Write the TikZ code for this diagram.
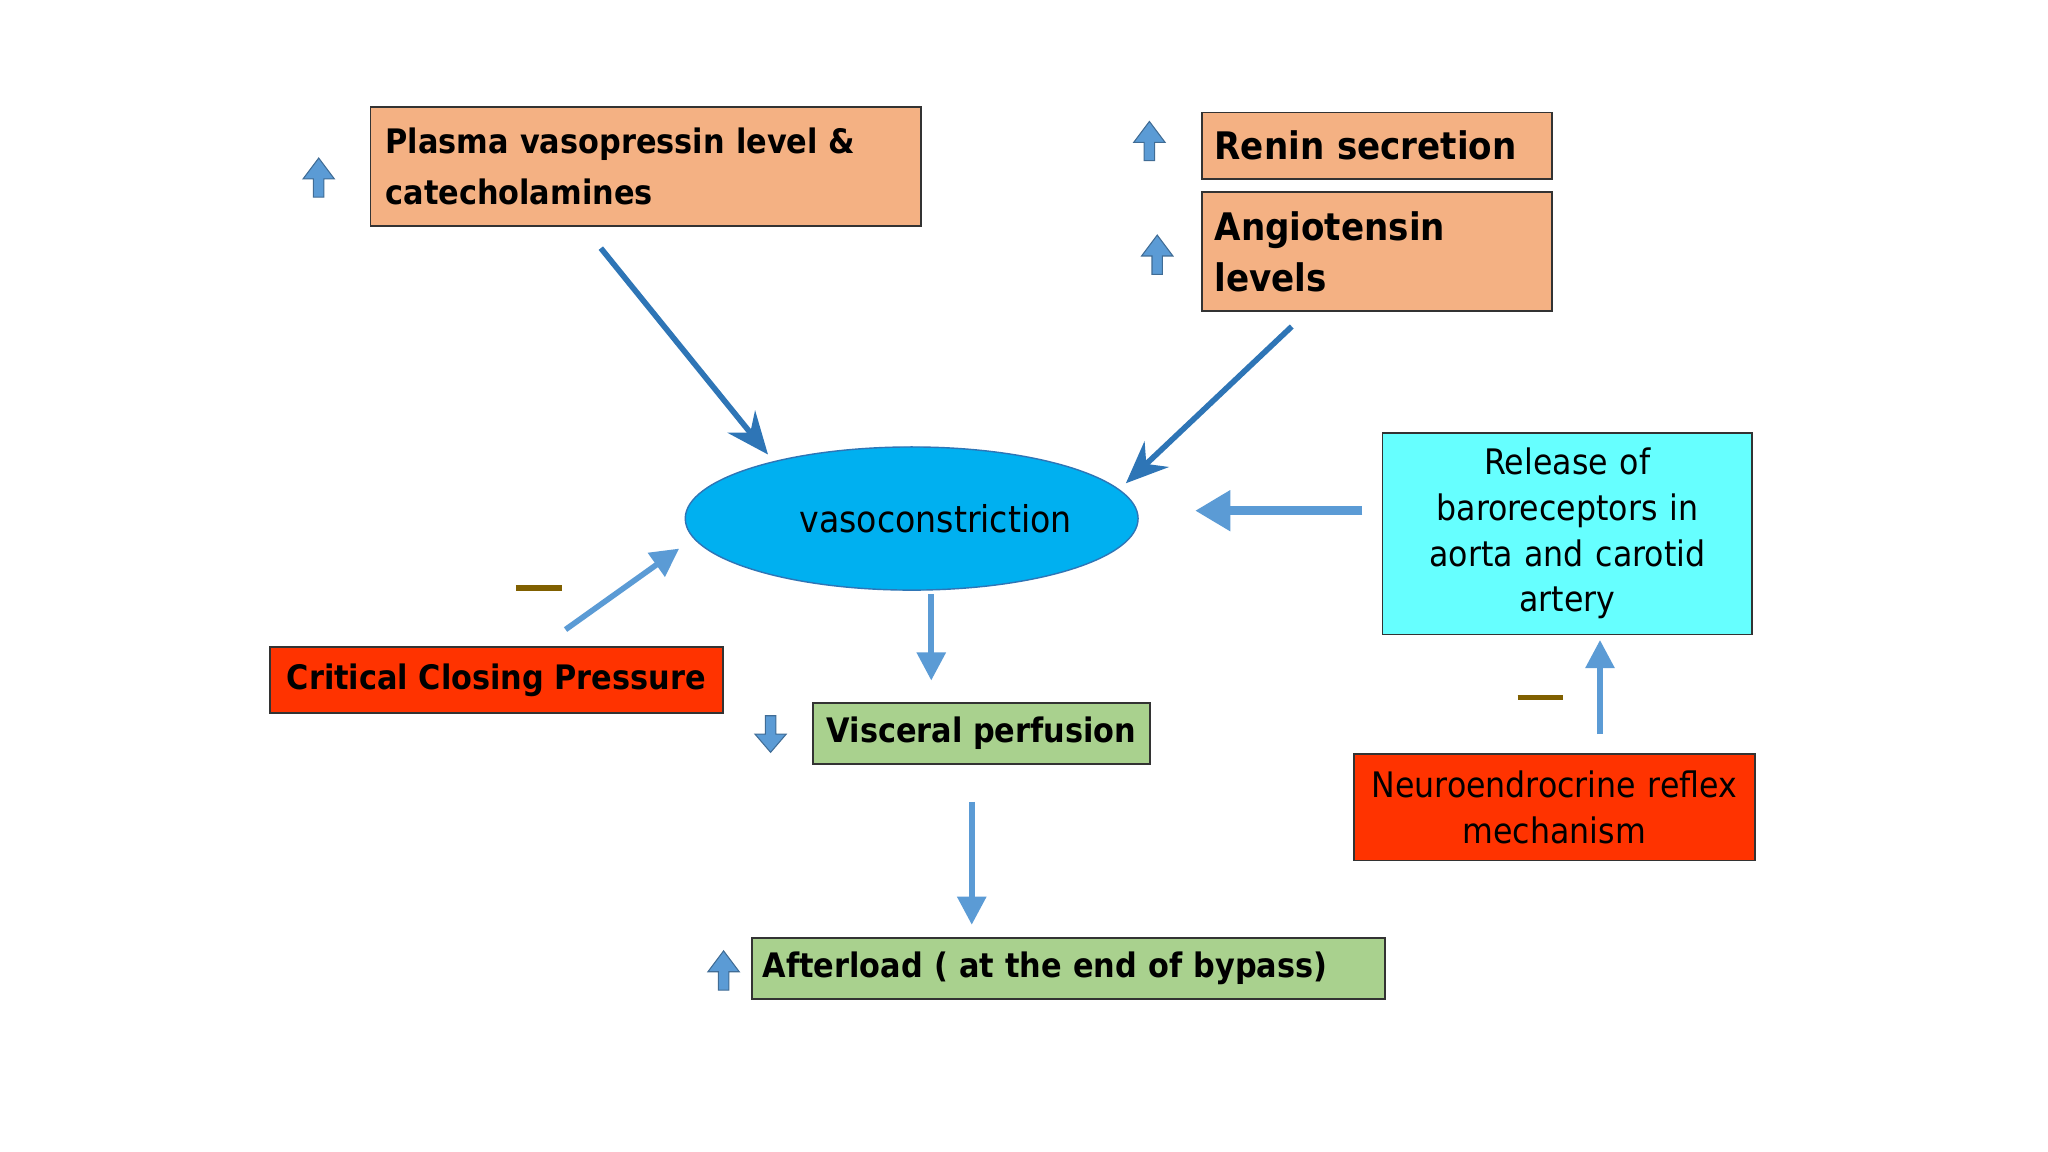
\documentclass[tikz,border=0pt]{standalone}
\usepackage{fontspec}
\setmainfont{DejaVu Sans Condensed}
\usetikzlibrary{arrows.meta,shapes.geometric}
\definecolor{orng}{HTML}{F4B183}
\definecolor{grn}{HTML}{A9D18E}
\definecolor{rd}{HTML}{FF3300}
\definecolor{cyn}{HTML}{66FFFF}
\definecolor{sky}{HTML}{00B0F0}
\definecolor{lb}{HTML}{5B9BD5}
\definecolor{db}{HTML}{2E75B6}
\definecolor{olv}{HTML}{806000}
\begin{document}
\begin{tikzpicture}[x=0.01306cm,y=-0.01306cm,
  box/.style n args={2}{draw=black!80,line width=0.5pt,inner sep=0pt,minimum width={#1*0.3703pt},minimum height={#2*0.3703pt}},
  tw/.style={text width={#1*0.3703pt}},
  bt/.style={font=\fontsize{9.6}{14.5}\selectfont\bfseries},
  big/.style={font=\fontsize{10.8}{14.5}\selectfont\bfseries},
  nt/.style={font=\fontsize{10}{13}\selectfont},
  thick arr/.style={db,line width=1.6pt,-{Stealth[length=12pt,width=10pt,inset=4pt]}},
  lite arr/.style={lb,line width=2.6pt,-{Triangle[length=10pt,width=11pt]}},
  mid arr/.style={lb,line width=1.6pt,-{Triangle[length=8pt,width=8pt]}},
  minus/.style={olv,line width=1.6pt},
  pics/up/.style={code={\fill[lb,draw=lb!70!black,line width=0.3pt] (-4,16)--(4,16)--(4,2)--(12,2)--(0,-14)--(-12,2)--(-4,2)--cycle;}},
  pics/down/.style={code={\fill[lb,draw=lb!70!black,line width=0.3pt] (-4,-14)--(4,-14)--(4,0)--(12,0)--(0,14)--(-12,0)--(-4,0)--cycle;}}]
\useasboundingbox (0,0) rectangle (1568,882);
\fill[white] (0,0) rectangle (1568,882);
% boxes
\node[box={423}{91},fill=orng,bt,align=left,tw=400] (plasma) at (494.5,127.5) {Plasma vasopressin level \&\\catecholamines};
\node[box={269}{51},fill=orng,big,align=left,tw=250] (renin) at (1054.5,111.5) {Renin secretion};
\node[box={269}{91},fill=orng,big,align=left,tw=250] (angio) at (1054.5,192.5) {Angiotensin\\levels};
\node[ellipse,draw=db,fill=sky,minimum width={278*0.3703pt},minimum height={110*0.3703pt},inner sep=0pt,font=\fontsize{10.5}{14}\selectfont] (vaso) at (698,397) {\hspace*{1.3em}vasoconstriction};
\node[box={284}{155},fill=cyn,nt,align=center,tw=260] (baro) at (1200,408.5) {Release of\\baroreceptors in\\aorta and carotid\\artery};
\node[box={308}{82},fill=rd,nt,align=center,tw=300] (neuro) at (1190,618) {Neuroendrocrine reflex\\mechanism};
\node[box={348}{51},fill=rd,bt] (crit) at (380,520.5) {Critical Closing Pressure};
\node[box={259}{47},fill=grn,bt] (visc) at (751.5,561.5) {Visceral perfusion};
\node[box={486}{47},fill=grn,bt,align=left,tw=470] (after) at (818,741.5) {Afterload ( at the end of bypass)};
% small block arrows
\pic at (244,135) {up};
\pic at (880,107) {up};
\pic at (886,194) {up};
\pic at (590,562) {down};
\pic at (554,742) {up};
% connectors
\coordinate (p1) at (460,190); \coordinate (p2) at (588,348);
\draw[thick arr] (p1) -- (p2);
\coordinate (a1) at (989,250); \coordinate (a2) at (862,370);
\draw[thick arr] (a1) -- (a2);
\coordinate (b1) at (1043,391); \coordinate (b2) at (915,391);
\draw[lite arr] (b1) -- (b2);
\coordinate (n1) at (1225,562); \coordinate (n2) at (1225,490);
\draw[mid arr] (n1) -- (n2);
\coordinate (c1) at (433,482); \coordinate (c2) at (520,420);
\draw[mid arr] (c1) -- (c2);
\coordinate (v1) at (713,455); \coordinate (v2) at (713,521);
\draw[mid arr] (v1) -- (v2);
\coordinate (f1) at (744,614); \coordinate (f2) at (744,708);
\draw[mid arr] (f1) -- (f2);
\draw[minus] (395,450) -- (430,450);
\draw[minus] (1162,534) -- (1197,534);
\end{tikzpicture}
\end{document}
